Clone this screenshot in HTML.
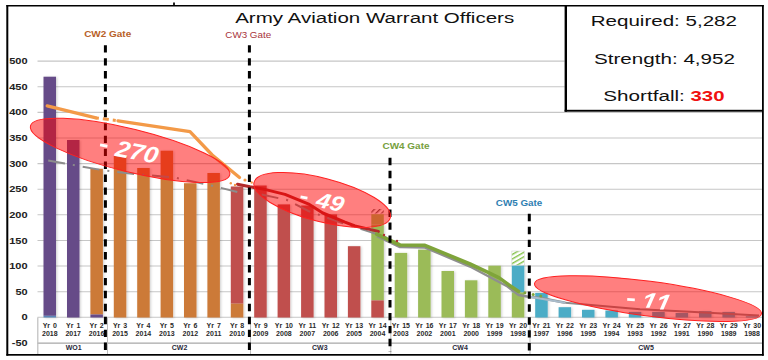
<!DOCTYPE html>
<html><head><meta charset="utf-8"><style>
html,body{margin:0;padding:0;background:#fff;width:768px;height:360px;overflow:hidden}
svg{display:block}
text{font-family:"Liberation Sans",sans-serif}
.yl{font-size:8.8px;font-weight:bold;fill:#222}
.cl{font-size:7px;font-weight:bold;fill:#2a2a2a;word-spacing:1px}
.gl{font-size:7px;font-weight:bold;fill:#2a2a3a}
.gate{font-size:8.6px;font-weight:bold}
.et{font-size:23px;font-weight:bold;font-style:italic;fill:#fff}
.title{font-size:15.3px;fill:#111}
.bx{font-size:15.5px;fill:#111}
</style></head><body>
<svg width="768" height="360" viewBox="0 0 768 360">
<defs>
<filter id="sh" x="-20%" y="-5%" width="140%" height="110%"><feDropShadow dx="1.2" dy="0.5" stdDeviation="1.2" flood-color="#000" flood-opacity="0.18"/></filter>
<pattern id="hatch" width="3.9" height="4" patternUnits="userSpaceOnUse" patternTransform="rotate(60)"><rect width="3.9" height="4" fill="#fff"/><rect width="1.4" height="4" fill="#84C24A"/></pattern>
<pattern id="hatchr" width="4" height="4" patternUnits="userSpaceOnUse" patternTransform="rotate(45)"><rect width="1.4" height="4" fill="#B83030"/></pattern>
</defs>
<line x1="37.5" y1="342.92" x2="762" y2="342.92" stroke="#C6C6C6" stroke-width="1.1"/>
<line x1="37.5" y1="317.30" x2="762" y2="317.30" stroke="#C6C6C6" stroke-width="1.1"/>
<line x1="37.5" y1="291.68" x2="762" y2="291.68" stroke="#C6C6C6" stroke-width="1.1"/>
<line x1="37.5" y1="266.06" x2="762" y2="266.06" stroke="#C6C6C6" stroke-width="1.1"/>
<line x1="37.5" y1="240.44" x2="762" y2="240.44" stroke="#C6C6C6" stroke-width="1.1"/>
<line x1="37.5" y1="214.82" x2="762" y2="214.82" stroke="#C6C6C6" stroke-width="1.1"/>
<line x1="37.5" y1="189.20" x2="762" y2="189.20" stroke="#C6C6C6" stroke-width="1.1"/>
<line x1="37.5" y1="163.58" x2="762" y2="163.58" stroke="#C6C6C6" stroke-width="1.1"/>
<line x1="37.5" y1="137.96" x2="762" y2="137.96" stroke="#C6C6C6" stroke-width="1.1"/>
<line x1="37.5" y1="112.34" x2="762" y2="112.34" stroke="#C6C6C6" stroke-width="1.1"/>
<line x1="37.5" y1="86.72" x2="762" y2="86.72" stroke="#C6C6C6" stroke-width="1.1"/>
<line x1="37.5" y1="61.10" x2="762" y2="61.10" stroke="#C6C6C6" stroke-width="1.1"/>
<text x="11.8" y="346.0" class="yl" textLength="15.8" lengthAdjust="spacingAndGlyphs">-50</text>
<text x="21.4" y="320.4" class="yl" textLength="6.2" lengthAdjust="spacingAndGlyphs">0</text>
<text x="15.4" y="294.8" class="yl" textLength="12.2" lengthAdjust="spacingAndGlyphs">50</text>
<text x="9.2" y="269.2" class="yl" textLength="18.4" lengthAdjust="spacingAndGlyphs">100</text>
<text x="9.2" y="243.5" class="yl" textLength="18.4" lengthAdjust="spacingAndGlyphs">150</text>
<text x="9.2" y="217.9" class="yl" textLength="18.4" lengthAdjust="spacingAndGlyphs">200</text>
<text x="9.2" y="192.3" class="yl" textLength="18.4" lengthAdjust="spacingAndGlyphs">250</text>
<text x="9.2" y="166.7" class="yl" textLength="18.4" lengthAdjust="spacingAndGlyphs">300</text>
<text x="9.2" y="141.1" class="yl" textLength="18.4" lengthAdjust="spacingAndGlyphs">350</text>
<text x="9.2" y="115.4" class="yl" textLength="18.4" lengthAdjust="spacingAndGlyphs">400</text>
<text x="9.2" y="89.8" class="yl" textLength="18.4" lengthAdjust="spacingAndGlyphs">450</text>
<text x="9.2" y="64.2" class="yl" textLength="18.4" lengthAdjust="spacingAndGlyphs">500</text>
<g filter="url(#sh)">
<rect x="43.5" y="76.7" width="12.5" height="239.1" fill="#664C88"/>
<rect x="43.5" y="315.8" width="12.5" height="1.7" fill="#5B86B8"/>
<rect x="67.0" y="140.0" width="12.5" height="177.5" fill="#664C88"/>
<rect x="90.4" y="168.8" width="12.5" height="145.7" fill="#CC7A38"/>
<rect x="90.4" y="314.5" width="12.5" height="3.0" fill="#664C88"/>
<rect x="113.8" y="155.0" width="12.5" height="162.5" fill="#CC7A38"/>
<rect x="137.2" y="168.0" width="12.5" height="149.5" fill="#CC7A38"/>
<rect x="160.6" y="150.7" width="12.5" height="166.8" fill="#CC7A38"/>
<rect x="184.0" y="183.2" width="12.5" height="134.3" fill="#CC7A38"/>
<rect x="207.4" y="173.0" width="12.5" height="144.5" fill="#CC7A38"/>
<rect x="230.8" y="186.5" width="12.5" height="117.2" fill="#C0504D"/>
<rect x="230.8" y="303.7" width="12.5" height="13.8" fill="#CC7A38"/>
<rect x="254.2" y="185.5" width="12.5" height="132.0" fill="#C0504D"/>
<rect x="277.6" y="204.4" width="12.5" height="113.1" fill="#C0504D"/>
<rect x="301.1" y="205.5" width="12.5" height="112.0" fill="#C0504D"/>
<rect x="324.5" y="214.4" width="12.5" height="103.1" fill="#C0504D"/>
<rect x="347.9" y="246.2" width="12.5" height="71.3" fill="#C0504D"/>
<rect x="371.3" y="224.5" width="12.5" height="75.9" fill="#9BBB59"/>
<rect x="371.3" y="300.4" width="12.5" height="17.1" fill="#C0504D"/>
<rect x="394.7" y="252.9" width="12.5" height="64.6" fill="#9BBB59"/>
<rect x="418.1" y="249.6" width="12.5" height="67.9" fill="#9BBB59"/>
<rect x="441.5" y="271.0" width="12.5" height="46.5" fill="#9BBB59"/>
<rect x="464.9" y="280.3" width="12.5" height="37.2" fill="#9BBB59"/>
<rect x="488.3" y="265.7" width="12.5" height="51.8" fill="#9BBB59"/>
<rect x="511.8" y="265.2" width="12.5" height="27.3" fill="#4BACC6"/>
<rect x="511.8" y="292.5" width="12.5" height="25.0" fill="#9BBB59"/>
<rect x="535.2" y="292.9" width="12.5" height="24.6" fill="#4BACC6"/>
<rect x="558.6" y="307.2" width="12.5" height="10.3" fill="#4BACC6"/>
<rect x="582.0" y="309.8" width="12.5" height="7.7" fill="#4BACC6"/>
<rect x="605.4" y="310.5" width="12.5" height="7.0" fill="#4BACC6"/>
<rect x="628.8" y="311.9" width="12.5" height="5.6" fill="#4BACC6"/>
<rect x="652.2" y="311.9" width="12.5" height="5.6" fill="#4BACC6"/>
<rect x="675.6" y="313.0" width="12.5" height="4.5" fill="#4BACC6"/>
<rect x="699.0" y="311.2" width="12.5" height="6.3" fill="#4BACC6"/>
<rect x="722.4" y="311.9" width="12.5" height="5.6" fill="#4BACC6"/>
<rect x="745.8" y="316.3" width="12.5" height="1.2" fill="#4BACC6"/>
</g>
<rect x="511.8" y="251" width="12.5" height="14.2" fill="url(#hatch)" stroke="#D8D8D8" stroke-width="0.6"/>
<line x1="37.8" y1="317.5" x2="37.8" y2="355" stroke="#BDBDBD" stroke-width="1.2"/>
<line x1="37.5" y1="343.5" x2="762" y2="343.5" stroke="#BDBDBD" stroke-width="1"/>
<line x1="107.5" y1="317.5" x2="107.5" y2="355" stroke="#BDBDBD" stroke-width="1"/>
<line x1="250.5" y1="317.5" x2="250.5" y2="355" stroke="#BDBDBD" stroke-width="1"/>
<line x1="390.8" y1="317.5" x2="390.8" y2="355" stroke="#BDBDBD" stroke-width="1"/>
<line x1="530" y1="317.5" x2="530" y2="355" stroke="#BDBDBD" stroke-width="1"/>
<text x="49.8" y="328" text-anchor="middle" class="cl">Yr 0</text>
<text x="49.8" y="335.8" text-anchor="middle" class="cl">2018</text>
<text x="73.2" y="328" text-anchor="middle" class="cl">Yr 1</text>
<text x="73.2" y="335.8" text-anchor="middle" class="cl">2017</text>
<text x="96.6" y="328" text-anchor="middle" class="cl">Yr 2</text>
<text x="96.6" y="335.8" text-anchor="middle" class="cl">2016</text>
<text x="120.0" y="328" text-anchor="middle" class="cl">Yr 3</text>
<text x="120.0" y="335.8" text-anchor="middle" class="cl">2015</text>
<text x="143.4" y="328" text-anchor="middle" class="cl">Yr 4</text>
<text x="143.4" y="335.8" text-anchor="middle" class="cl">2014</text>
<text x="166.8" y="328" text-anchor="middle" class="cl">Yr 5</text>
<text x="166.8" y="335.8" text-anchor="middle" class="cl">2013</text>
<text x="190.3" y="328" text-anchor="middle" class="cl">Yr 6</text>
<text x="190.3" y="335.8" text-anchor="middle" class="cl">2012</text>
<text x="213.7" y="328" text-anchor="middle" class="cl">Yr 7</text>
<text x="213.7" y="335.8" text-anchor="middle" class="cl">2011</text>
<text x="237.1" y="328" text-anchor="middle" class="cl">Yr 8</text>
<text x="237.1" y="335.8" text-anchor="middle" class="cl">2010</text>
<text x="260.5" y="328" text-anchor="middle" class="cl">Yr 9</text>
<text x="260.5" y="335.8" text-anchor="middle" class="cl">2009</text>
<text x="283.9" y="328" text-anchor="middle" class="cl">Yr 10</text>
<text x="283.9" y="335.8" text-anchor="middle" class="cl">2008</text>
<text x="307.3" y="328" text-anchor="middle" class="cl">Yr 11</text>
<text x="307.3" y="335.8" text-anchor="middle" class="cl">2007</text>
<text x="330.7" y="328" text-anchor="middle" class="cl">Yr 12</text>
<text x="330.7" y="335.8" text-anchor="middle" class="cl">2006</text>
<text x="354.1" y="328" text-anchor="middle" class="cl">Yr 13</text>
<text x="354.1" y="335.8" text-anchor="middle" class="cl">2005</text>
<text x="377.5" y="328" text-anchor="middle" class="cl">Yr 14</text>
<text x="377.5" y="335.8" text-anchor="middle" class="cl">2004</text>
<text x="400.9" y="328" text-anchor="middle" class="cl">Yr 15</text>
<text x="400.9" y="335.8" text-anchor="middle" class="cl">2003</text>
<text x="424.4" y="328" text-anchor="middle" class="cl">Yr 16</text>
<text x="424.4" y="335.8" text-anchor="middle" class="cl">2002</text>
<text x="447.8" y="328" text-anchor="middle" class="cl">Yr 17</text>
<text x="447.8" y="335.8" text-anchor="middle" class="cl">2001</text>
<text x="471.2" y="328" text-anchor="middle" class="cl">Yr 18</text>
<text x="471.2" y="335.8" text-anchor="middle" class="cl">2000</text>
<text x="494.6" y="328" text-anchor="middle" class="cl">Yr 19</text>
<text x="494.6" y="335.8" text-anchor="middle" class="cl">1999</text>
<text x="518.0" y="328" text-anchor="middle" class="cl">Yr 20</text>
<text x="518.0" y="335.8" text-anchor="middle" class="cl">1998</text>
<text x="541.4" y="328" text-anchor="middle" class="cl">Yr 21</text>
<text x="541.4" y="335.8" text-anchor="middle" class="cl">1997</text>
<text x="564.8" y="328" text-anchor="middle" class="cl">Yr 22</text>
<text x="564.8" y="335.8" text-anchor="middle" class="cl">1996</text>
<text x="588.2" y="328" text-anchor="middle" class="cl">Yr 23</text>
<text x="588.2" y="335.8" text-anchor="middle" class="cl">1995</text>
<text x="611.6" y="328" text-anchor="middle" class="cl">Yr 24</text>
<text x="611.6" y="335.8" text-anchor="middle" class="cl">1994</text>
<text x="635.0" y="328" text-anchor="middle" class="cl">Yr 25</text>
<text x="635.0" y="335.8" text-anchor="middle" class="cl">1993</text>
<text x="658.5" y="328" text-anchor="middle" class="cl">Yr 26</text>
<text x="658.5" y="335.8" text-anchor="middle" class="cl">1992</text>
<text x="681.9" y="328" text-anchor="middle" class="cl">Yr 27</text>
<text x="681.9" y="335.8" text-anchor="middle" class="cl">1991</text>
<text x="705.3" y="328" text-anchor="middle" class="cl">Yr 28</text>
<text x="705.3" y="335.8" text-anchor="middle" class="cl">1990</text>
<text x="728.7" y="328" text-anchor="middle" class="cl">Yr 29</text>
<text x="728.7" y="335.8" text-anchor="middle" class="cl">1989</text>
<text x="752.1" y="328" text-anchor="middle" class="cl">Yr 30</text>
<text x="752.1" y="335.8" text-anchor="middle" class="cl">1988</text>
<text x="73.7" y="349.8" text-anchor="middle" class="gl">WO1</text>
<text x="179.6" y="349.8" text-anchor="middle" class="gl">CW2</text>
<text x="319.8" y="349.8" text-anchor="middle" class="gl">CW3</text>
<text x="460" y="349.8" text-anchor="middle" class="gl">CW4</text>
<text x="646" y="349.8" text-anchor="middle" class="gl">CW5</text>
<polyline points="47.2,105.9 95.9,117.9" fill="none" stroke="#F39A48" stroke-width="3.3" stroke-linecap="round"/>
<polyline points="95.9,117.9 118,120.8" fill="none" stroke="#F39A48" stroke-width="3" stroke-dasharray="3,4,6,4"/>
<polyline points="118,120.8 190,131.7 212.2,155 239.5,177.5" fill="none" stroke="#F39A48" stroke-width="3.3" stroke-linecap="round" stroke-linejoin="round"/>
<circle cx="245" cy="180" r="1.6" fill="#F39A48"/>
<polyline points="48.2,160.5 101.5,170 135.7,174.1 174,177.4 209.5,185 242.4,193.3" fill="none" stroke="#8C8C8C" stroke-width="2" stroke-dasharray="17,8,2,8"/>
<polyline points="261.7,194.5 287,200 308.4,211 341.4,222.7 374.5,233.4 388,238" fill="none" stroke="#8C8C8C" stroke-width="2" stroke-dasharray="17,8,2,8"/>
<polyline points="377,236 400,247 425,247.5 470,266.5 507.5,286.5 518.6,295 528.3,296.7 541,298 565.2,302.8" fill="none" stroke="#8F8F8F" stroke-width="2.5" stroke-linejoin="round"/>
<polyline points="528,296.5 565.2,302.8" fill="none" stroke="#A9BCCB" stroke-width="2"/>
<polyline points="565.2,302.8 640,309.2 690,311.7 759,315.5" fill="none" stroke="#8C8C8C" stroke-width="2"/>
<polyline points="237.5,184.2 250,186.8 265.6,189.6 285,194.4 309.4,204.4 322.8,213 345,222.2 355,226 378.4,231.4" fill="none" stroke="#B22A2A" stroke-width="3" stroke-linejoin="round" stroke-linecap="round"/>
<polyline points="376.7,234.2 400,245 425,245.3 470,264 488,272.4 499.2,277.9 508.9,284.9 518.6,291.4" fill="none" stroke="#7FA43A" stroke-width="3.6" stroke-linejoin="round" stroke-linecap="round"/>
<circle cx="524.9" cy="292.8" r="1.5" fill="#7FA43A"/>
<circle cx="533.2" cy="294.6" r="1.5" fill="#7FA43A"/>
<circle cx="540.8" cy="296" r="1.5" fill="#7FA43A"/>
<circle cx="230.8" cy="183.3" r="1.2" fill="#F39A48"/>
<circle cx="235" cy="185" r="1.2" fill="#F39A48"/>
<circle cx="251.7" cy="182.5" r="1.2" fill="#F39A48"/>
<circle cx="384" cy="235" r="1.2" fill="#B03030"/>
<circle cx="397" cy="241" r="1.2" fill="#B03030"/>
<rect x="173" y="2.5" width="2" height="3" fill="#222"/>
<line x1="105.4" y1="45.2" x2="105.4" y2="352" stroke="#000" stroke-width="3" stroke-dasharray="7.4,5.53"/>
<line x1="249.4" y1="45.2" x2="249.4" y2="352" stroke="#000" stroke-width="3" stroke-dasharray="7.4,5.53"/>
<line x1="390" y1="157.8" x2="390" y2="352" stroke="#000" stroke-width="3" stroke-dasharray="7.4,5.53"/>
<line x1="529.3" y1="213.8" x2="529.3" y2="352" stroke="#000" stroke-width="3" stroke-dasharray="7.4,5.53"/>
<text x="84.2" y="36.9" class="gate" style="fill:#B85F28" textLength="47" lengthAdjust="spacingAndGlyphs">CW2 Gate</text>
<text x="225.3" y="38.3" class="gate" style="fill:#A8343A;font-weight:normal;font-size:8.3px" textLength="45.8" lengthAdjust="spacingAndGlyphs">CW3 Gate</text>
<text x="382.5" y="148.7" class="gate" style="fill:#76A040" textLength="47" lengthAdjust="spacingAndGlyphs">CW4 Gate</text>
<text x="495.8" y="206" class="gate" style="fill:#2F80B2" textLength="46.5" lengthAdjust="spacingAndGlyphs">CW5 Gate</text>
<ellipse cx="130.1" cy="150.4" rx="102.6" ry="21.5" transform="rotate(13.8 130.1 150.4)" fill="rgba(255,0,0,0.5)" stroke="#FF2020" stroke-width="1"/>
<ellipse cx="322.2" cy="200" rx="70.4" ry="21.8" transform="rotate(14.5 322.2 200)" fill="rgba(255,0,0,0.5)" stroke="#FF2020" stroke-width="1"/>
<ellipse cx="648.0" cy="298.6" rx="114.5" ry="17.4" transform="rotate(7.6 648.0 298.6)" fill="rgba(255,0,0,0.5)" stroke="#FF2020" stroke-width="1"/>
<rect x="371.3" y="214.2" width="12.5" height="10.3" fill="#CC6530"/>
<rect x="371.3" y="209" width="12.5" height="4.5" fill="url(#hatchr)"/>
<rect x="100.0" y="144.2" width="7.5" height="2.8" fill="#fff" transform="rotate(10 103.75 145.6)"/>
<g transform="translate(137.2 151.6) scale(1.12 1) rotate(12)"><text x="0" y="8.21" text-anchor="middle" class="et" style="font-size:23px">270</text></g>
<rect x="300.5" y="196.1" width="7" height="2.8" fill="#fff" transform="rotate(10 304 197.5)"/>
<g transform="translate(330.5 201.9) scale(1.18 1) rotate(13)"><text x="0" y="7.50" text-anchor="middle" class="et" style="font-size:21px">49</text></g>
<rect x="627.2" y="298.2" width="7.6" height="2.8" fill="#fff" transform="rotate(3 631 299.6)"/>
<path d="M652.2,293.2 L655.9,293.2 L649.5,307.8 L645.8,307.8 Z M652.4,293.2 L651.2,296.3 L644.8,299.0 L645.9,296.0 Z" fill="#fff"/>
<path d="M666.2,294.8 L669.9,294.8 L663.5,309.40000000000003 L659.8,309.40000000000003 Z M666.4,294.8 L665.2,297.90000000000003 L658.8,300.6 L659.9,297.6 Z" fill="#fff"/>
<text x="235.2" y="22.5" class="title" textLength="279" lengthAdjust="spacingAndGlyphs">Army Aviation Warrant Officers</text>
<rect x="564.6" y="5" width="198" height="106.7" fill="#fff"/>
<rect x="564.6" y="5" width="2.4" height="106.7" fill="#000"/>
<rect x="564.6" y="109.8" width="198" height="1.9" fill="#000"/>
<text x="590.7" y="26" class="bx" textLength="146.3" lengthAdjust="spacingAndGlyphs">Required: 5,282</text>
<text x="594" y="64" class="bx" textLength="141" lengthAdjust="spacingAndGlyphs">Strength: 4,952</text>
<text x="603.3" y="100.6" class="bx" textLength="81.5" lengthAdjust="spacingAndGlyphs">Shortfall: </text>
<text x="690.5" y="100.6" class="bx" style="font-weight:bold;fill:#F01010" textLength="34" lengthAdjust="spacingAndGlyphs">330</text>
<rect x="6.4" y="5" width="757.3" height="1.5" fill="#000"/>
<rect x="6.3" y="5" width="2.0" height="350.7" fill="#000"/>
<rect x="762" y="5" width="1.8" height="350.7" fill="#000"/>
<rect x="6.4" y="354" width="757.3" height="1.7" fill="#000"/>
</svg>
</body></html>
